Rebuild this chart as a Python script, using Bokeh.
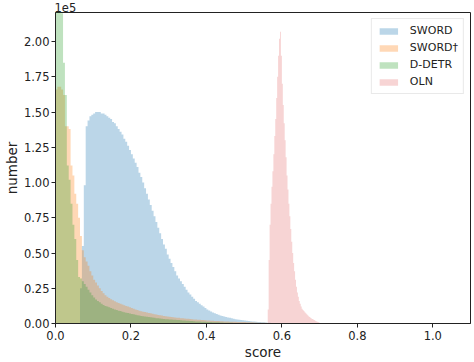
from bokeh.plotting import figure
from bokeh.models import Range1d, FixedTicker, Legend, LegendItem, NumeralTickFormatter
from bokeh.embed import file_html
from bokeh.resources import INLINE
import numpy as np

# ---- data (counts in units of 1e5) ----
SERIES_NAMES = ["SWORD", "SWORD\u2020", "D-DETR", "OLN"]
COLORS = ["#1f77b4", "#ff7f0e", "#2ca02c", "#d62728"]

sword_start = 0.065
sword_bin = 0.005
sword_counts = [
    0.25, 0.55, 0.98, 1.40, 1.44, 1.47, 1.48, 1.49, 1.50, 1.50,
    1.50, 1.49, 1.49, 1.48, 1.47, 1.46, 1.45, 1.43, 1.42, 1.40,
    1.38, 1.36, 1.34, 1.31, 1.29, 1.26, 1.23, 1.20, 1.17, 1.14,
    1.11, 1.07, 1.04, 1.00, 0.96, 0.92, 0.88, 0.84, 0.80, 0.76,
    0.72, 0.68, 0.64, 0.60, 0.56, 0.53, 0.49, 0.46, 0.43, 0.40,
    0.37, 0.34, 0.32, 0.30, 0.28, 0.26, 0.24, 0.22, 0.205, 0.19,
    0.175, 0.16, 0.15, 0.14, 0.13, 0.12, 0.11, 0.10, 0.092, 0.085,
    0.078, 0.072, 0.067, 0.062, 0.057, 0.053, 0.049, 0.046, 0.043, 0.040,
    0.037, 0.034, 0.031, 0.029, 0.027, 0.025, 0.023, 0.021, 0.0195, 0.018,
    0.0165, 0.015, 0.0135, 0.012, 0.011, 0.010, 0.009, 0.008, 0.007, 0.006,
    0.005, 0.004, 0.0035, 0.003, 0.0025, 0.002, 0.0015, 0.001,
]

swordd_start = 0.0
swordd_bin = 0.005
swordd_counts = [
    1.66, 1.68, 1.68, 1.66, 1.62, 1.40, 1.40, 1.38, 1.12, 1.05,
    0.92, 0.85, 0.75, 0.62, 0.52, 0.47, 0.44, 0.41, 0.37, 0.34,
    0.31, 0.29, 0.27, 0.25, 0.23, 0.215, 0.20, 0.19, 0.18, 0.172,
    0.165, 0.158, 0.15, 0.145, 0.14, 0.135, 0.13, 0.125, 0.12, 0.115,
    0.11, 0.105, 0.10, 0.095, 0.09, 0.087, 0.084, 0.081, 0.078, 0.075,
    0.072, 0.069, 0.066, 0.063, 0.061, 0.058, 0.056, 0.054, 0.052, 0.050,
    0.048, 0.046, 0.044, 0.043, 0.041, 0.040, 0.038, 0.037, 0.035, 0.034,
    0.033, 0.032, 0.030, 0.029, 0.028, 0.027, 0.026, 0.025, 0.024, 0.023,
    0.022, 0.021, 0.020, 0.019, 0.018, 0.018, 0.017, 0.016, 0.016, 0.015,
    0.015, 0.014, 0.013, 0.013, 0.012, 0.012, 0.011, 0.011, 0.010, 0.010,
    0.010, 0.009, 0.009, 0.008, 0.008, 0.007, 0.007, 0.006, 0.006, 0.006,
    0.005, 0.005, 0.004, 0.004, 0.004, 0.003, 0.003, 0.003, 0.002, 0.002,
    0.002,
]

ddetr_start = 0.0
ddetr_bin = 0.005
ddetr_counts = [
    2.30, 2.30, 2.25, 2.20, 1.85, 1.62, 1.12, 1.02, 0.85, 0.70,
    0.60, 0.45, 0.33, 0.32, 0.30, 0.28, 0.26, 0.24, 0.22, 0.20,
    0.185, 0.17, 0.16, 0.15, 0.14, 0.132, 0.125, 0.12, 0.115, 0.11,
    0.105, 0.10, 0.095, 0.091, 0.088, 0.084, 0.080, 0.077, 0.074, 0.071,
    0.068, 0.065, 0.062, 0.059, 0.057, 0.054, 0.052, 0.050, 0.048, 0.046,
    0.044, 0.042, 0.040, 0.038, 0.037, 0.035, 0.034, 0.032, 0.031, 0.030,
    0.029, 0.028, 0.027, 0.026, 0.025, 0.024, 0.023, 0.022, 0.021, 0.020,
    0.019, 0.018, 0.017, 0.016, 0.015, 0.014, 0.014, 0.013, 0.012, 0.012,
    0.011, 0.010, 0.010, 0.009, 0.009, 0.008, 0.008, 0.007, 0.007, 0.006,
    0.006, 0.005, 0.005, 0.005, 0.004, 0.004, 0.004, 0.003, 0.003, 0.003,
    0.002, 0.002, 0.002,
]

oln_start = 0.5625
oln_bin = 0.0025
oln_counts = [
    0.10, 0.45, 0.70, 0.85, 0.97, 1.08, 1.20, 1.33, 1.45, 1.60,
    1.75, 1.90, 2.02, 2.07, 1.90, 1.70, 1.55, 1.42, 1.30, 1.18,
    1.05, 0.95, 0.85, 0.76, 0.67, 0.58, 0.50, 0.43, 0.37, 0.31,
    0.26, 0.22, 0.19, 0.16, 0.14, 0.12, 0.105, 0.095, 0.088, 0.08,
    0.072, 0.065, 0.058, 0.052, 0.046, 0.041, 0.036, 0.032, 0.028, 0.024,
    0.020, 0.016, 0.013, 0.010, 0.007, 0.004, 0.002,
]

X_TICKS = [0.0, 0.2, 0.4, 0.6, 0.8, 1.0]
Y_TICKS = [0.0, 0.25, 0.5, 0.75, 1.0, 1.25, 1.5, 1.75, 2.0]
X_MAX = 1.1
Y_MAX = 2.206

FONT = "DejaVu Sans"
INK = "#222222"

p = figure(frame_width=415, frame_height=311,
           x_range=Range1d(0, X_MAX), y_range=Range1d(0, Y_MAX),
           output_backend="svg", toolbar_location=None,
           min_border_left=0, min_border_right=2, min_border_top=0, min_border_bottom=0,
           title="1e5")
p.title.text_font = FONT
p.title.text_font_size = "11.5px"
p.title.text_font_style = "normal"
p.title.text_color = INK
p.title.align = "left"
p.title.standoff = 1
p.title.offset = -1
p.background_fill_color = "white"
p.border_fill_color = "white"
p.outline_line_color = INK
p.outline_line_width = 1
p.grid.visible = False

series = [
    (sword_start, sword_bin, sword_counts, 0.3),
    (swordd_start, swordd_bin, swordd_counts, 0.3),
    (ddetr_start, ddetr_bin, ddetr_counts, 0.3),
    (oln_start, oln_bin, oln_counts, 0.2),
]


def step_outline(start, width, counts):
    c = np.asarray(counts, dtype=float)
    edges = start + width * np.arange(len(c) + 1)
    xs = np.concatenate([[edges[0]], np.repeat(edges, 2)[1:-1], [edges[-1]]])
    ys = np.concatenate([[0.0], np.repeat(c, 2), [0.0]])
    return xs, ys


items = []
for name, color, (start, width, counts, alpha) in zip(SERIES_NAMES, COLORS, series):
    xs, ys = step_outline(start, width, counts)
    r = p.patch(x=xs, y=ys, fill_color=color, fill_alpha=alpha, line_color=None)
    items.append(LegendItem(label=name, renderers=[r]))

legend = Legend(items=items, location="top_right")
legend.label_text_font = FONT
legend.label_text_font_size = "11px"
legend.label_text_color = INK
legend.glyph_width = 23
legend.glyph_height = 8
legend.label_height = 13
legend.label_standoff = 10
legend.spacing = 4
legend.padding = 5
legend.margin = 6
legend.border_line_color = "#d4d4d4"
legend.border_line_width = 1
legend.background_fill_alpha = 0.8
p.add_layout(legend)

for ax in (p.xaxis[0], p.yaxis[0]):
    ax.axis_line_color = INK
    ax.major_tick_line_color = INK
    ax.major_tick_out = 4
    ax.major_tick_in = 0
    ax.minor_tick_line_color = None
    ax.major_label_text_font = FONT
    ax.major_label_text_font_size = "11.5px"
    ax.major_label_text_color = INK
    ax.axis_label_text_font = FONT
    ax.axis_label_text_font_size = "13.5px"
    ax.axis_label_text_font_style = "normal"
    ax.axis_label_text_color = INK

p.xaxis.ticker = FixedTicker(ticks=X_TICKS)
p.yaxis.ticker = FixedTicker(ticks=Y_TICKS)
p.xaxis.formatter = NumeralTickFormatter(format="0.0")
p.yaxis.formatter = NumeralTickFormatter(format="0.00")
p.xaxis.major_label_standoff = 3
p.yaxis.major_label_standoff = 2
p.xaxis.axis_label = "score"
p.yaxis.axis_label = "number"
p.xaxis.axis_label_standoff = 1
p.yaxis.axis_label_standoff = 1

open("out.html", "w").write(file_html(p, INLINE))
